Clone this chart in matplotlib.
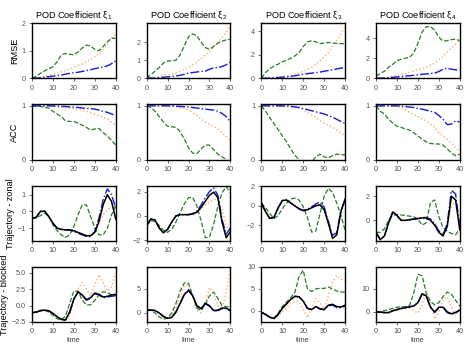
import numpy as np
import matplotlib
matplotlib.use("Agg")
import matplotlib.pyplot as plt

plt.rcParams["font.family"] = ["Liberation Sans", "DejaVu Sans"]
plt.rcParams["mathtext.fontset"] = "custom"
plt.rcParams["mathtext.rm"] = "Liberation Sans"
plt.rcParams["mathtext.it"] = "Liberation Sans"

# time grid (every 2 time units)
t = np.arange(0, 41, 2)

coef_titles = ["POD Coefficient ξ$_1$", "POD Coefficient ξ$_2$",
               "POD Coefficient ξ$_3$", "POD Coefficient ξ$_4$"]
row_labels = ["RMSE", "ACC", "Trajectory - zonal", "Trajectory - blocked"]

# ---- RMSE ----
rmse_blue = [
    [0, 0.01, 0.02, 0.04, 0.06, 0.08, 0.1, 0.12, 0.15, 0.18, 0.2, 0.22, 0.25, 0.28, 0.31, 0.35, 0.38, 0.41, 0.45, 0.53, 0.63],
    [0, 0.01, 0.02, 0.04, 0.06, 0.08, 0.1, 0.13, 0.17, 0.22, 0.28, 0.32, 0.35, 0.38, 0.4, 0.5, 0.58, 0.6, 0.65, 0.75, 0.9],
    [0, 0.01, 0.03, 0.05, 0.07, 0.1, 0.13, 0.17, 0.22, 0.28, 0.35, 0.4, 0.44, 0.48, 0.53, 0.6, 0.66, 0.72, 0.8, 0.87, 0.92],
    [0, 0.02, 0.04, 0.07, 0.1, 0.14, 0.18, 0.22, 0.26, 0.3, 0.35, 0.4, 0.44, 0.48, 0.52, 0.68, 0.9, 1.0, 0.9, 0.85, 0.85],
]
rmse_orange = [
    [0, 0.01, 0.03, 0.06, 0.1, 0.15, 0.19, 0.23, 0.28, 0.34, 0.4, 0.46, 0.53, 0.6, 0.68, 0.78, 0.9, 1.05, 1.22, 1.45, 1.65],
    [0, 0.02, 0.05, 0.09, 0.14, 0.2, 0.25, 0.3, 0.4, 0.5, 0.6, 0.75, 0.9, 1.1, 1.3, 1.5, 1.75, 2.0, 2.25, 2.55, 2.9],
    [0, 0.02, 0.04, 0.07, 0.1, 0.15, 0.2, 0.25, 0.35, 0.47, 0.6, 0.75, 0.9, 1.2, 1.5, 1.85, 2.2, 2.7, 3.2, 3.8, 4.4],
    [0, 0.03, 0.07, 0.12, 0.2, 0.3, 0.38, 0.45, 0.6, 0.72, 0.85, 0.98, 1.1, 1.3, 1.5, 1.85, 2.2, 2.6, 3.0, 3.4, 3.8],
]
rmse_green = [
    [0, 0.08, 0.18, 0.27, 0.35, 0.42, 0.6, 0.85, 0.9, 0.87, 0.85, 0.95, 1.1, 1.2, 1.17, 1.05, 1.0, 1.15, 1.32, 1.45, 1.45],
    [0, 0.2, 0.4, 0.6, 0.85, 0.95, 0.97, 1.0, 1.3, 1.8, 2.3, 2.45, 2.35, 2.0, 1.7, 1.6, 1.75, 1.95, 2.05, 2.12, 2.15],
    [0, 0.5, 0.8, 1.05, 1.2, 1.4, 1.55, 1.7, 1.9, 2.2, 2.7, 3.1, 3.2, 3.1, 2.95, 3.0, 3.05, 3.0, 2.97, 2.95, 2.95],
    [0.2, 0.5, 0.7, 1.1, 1.4, 1.75, 1.9, 2.0, 2.1, 2.5, 3.5, 4.6, 5.15, 5.15, 4.8, 4.1, 3.7, 3.75, 3.85, 3.9, 3.75],
]

# ---- ACC ----
acc_blue = [
    [1, 1, 1, 1, 1, 1, 0.995, 0.99, 0.99, 0.98, 0.98, 0.97, 0.96, 0.955, 0.95, 0.94, 0.92, 0.9, 0.88, 0.85, 0.82],
    [1, 1, 1, 1, 1, 1, 1, 0.995, 0.99, 0.985, 0.98, 0.97, 0.96, 0.95, 0.94, 0.93, 0.92, 0.9, 0.86, 0.8, 0.7],
    [1, 1, 1, 1, 1, 1, 0.995, 0.99, 0.98, 0.97, 0.95, 0.93, 0.91, 0.89, 0.87, 0.85, 0.82, 0.79, 0.75, 0.71, 0.67],
    [1, 1, 1, 1, 1, 1, 0.995, 0.99, 0.98, 0.97, 0.95, 0.94, 0.92, 0.9, 0.88, 0.82, 0.75, 0.65, 0.66, 0.72, 0.7],
]
acc_orange = [
    [1, 1, 1, 1, 1, 0.99, 0.98, 0.975, 0.97, 0.96, 0.95, 0.935, 0.92, 0.9, 0.87, 0.85, 0.82, 0.79, 0.75, 0.7, 0.65],
    [1, 1, 1, 1, 1, 0.995, 0.99, 0.985, 0.97, 0.95, 0.92, 0.87, 0.82, 0.76, 0.7, 0.66, 0.62, 0.57, 0.5, 0.43, 0.36],
    [1, 1, 1, 1, 1, 1, 0.995, 0.99, 0.98, 0.96, 0.93, 0.88, 0.83, 0.78, 0.73, 0.68, 0.64, 0.6, 0.55, 0.49, 0.45],
    [1, 1, 1, 1, 0.995, 0.99, 0.97, 0.93, 0.88, 0.84, 0.8, 0.76, 0.72, 0.66, 0.6, 0.5, 0.44, 0.38, 0.3, 0.22, 0.15],
]
acc_green = [
    [1, 0.995, 0.99, 0.97, 0.96, 0.9, 0.85, 0.8, 0.72, 0.71, 0.71, 0.68, 0.64, 0.6, 0.55, 0.57, 0.58, 0.5, 0.44, 0.36, 0.27],
    [1, 0.97, 0.9, 0.8, 0.7, 0.62, 0.61, 0.6, 0.52, 0.38, 0.22, 0.12, 0.11, 0.2, 0.27, 0.27, 0.18, 0.1, 0.05, 0.0, -0.05],
    [1, 0.9, 0.78, 0.67, 0.56, 0.44, 0.33, 0.2, 0.08, 0.0, -0.1, -0.15, -0.05, 0.05, 0.1, 0.05, 0.03, 0.07, 0.1, 0.09, 0.09],
    [1, 0.9, 0.85, 0.75, 0.68, 0.62, 0.6, 0.57, 0.55, 0.5, 0.44, 0.38, 0.33, 0.3, 0.29, 0.29, 0.27, 0.2, 0.12, 0.07, 0.1],
]

# ---- trajectories, zonal regime ----
zonal_truth = [
    [-0.4, -0.35, 0.0, 0.02, -0.3, -0.7, -1.0, -1.07, -1.1, -1.1, -1.15, -1.25, -1.35, -1.45, -1.45, -1.25, -0.6, 0.4, 1.0, 0.6, -0.45],
    [-0.8, -0.25, -0.35, -1.0, -1.4, -1.1, -0.5, 0.0, 0.1, 0.1, 0.1, 0.15, 0.3, 0.7, 1.2, 1.7, 1.95, 1.5, -0.5, -1.8, -1.3],
    [0.3, -0.6, -1.3, -1.2, -0.2, 0.55, 0.6, 0.3, 0.0, -0.3, -0.5, -0.4, -0.2, 0.0, 0.1, -0.4, -1.8, -3.35, -3.0, -0.6, 0.7],
    [-1.0, -1.6, -1.3, -0.2, 0.7, 0.4, 0.0, 0.0, 0.05, 0.1, 0.15, 0.2, 0.2, 0.0, -0.4, -1.0, -1.3, -0.5, 2.0, 1.7, -0.8],
]
zonal_blue = [
    [-0.4, -0.35, 0.0, 0.02, -0.3, -0.7, -1.0, -1.07, -1.1, -1.12, -1.2, -1.3, -1.4, -1.5, -1.5, -1.2, -0.4, 0.7, 1.35, 1.0, 0.2],
    [-0.8, -0.25, -0.35, -1.0, -1.4, -1.1, -0.5, 0.0, 0.1, 0.1, 0.1, 0.2, 0.4, 0.9, 1.5, 2.0, 2.3, 1.7, -0.3, -1.5, -1.0],
    [0.3, -0.6, -1.3, -1.2, -0.2, 0.55, 0.6, 0.3, 0.0, -0.3, -0.45, -0.35, -0.1, 0.2, 0.4, -0.1, -1.6, -3.0, -2.8, -0.5, 0.6],
    [-1.0, -1.6, -1.3, -0.2, 0.7, 0.4, 0.0, 0.0, 0.05, 0.1, 0.15, 0.2, 0.25, 0.1, -0.3, -0.9, -1.2, -0.3, 2.5, 2.2, -0.5],
]
zonal_orange = [
    [-0.4, -0.35, 0.0, 0.02, -0.3, -0.7, -1.0, -1.07, -1.1, -1.1, -1.15, -1.25, -1.35, -1.4, -1.35, -1.2, -0.7, -0.2, 0.1, 0.25, 0.3],
    [-0.8, -0.25, -0.35, -1.0, -1.4, -1.1, -0.5, 0.0, 0.1, 0.1, 0.1, 0.15, 0.3, 0.6, 0.9, 1.15, 1.3, 1.4, 0.6, -0.9, -1.4],
    [0.3, -0.6, -1.3, -1.2, -0.2, 0.55, 0.6, 0.3, 0.0, -0.3, -0.5, -0.4, -0.2, 0.05, 0.2, -0.2, -1.5, -3.0, -2.9, -0.7, 0.5],
    [-1.0, -1.6, -1.3, -0.2, 0.7, 0.4, 0.0, 0.0, 0.1, 0.15, 0.2, 0.25, 0.3, 0.2, -0.2, -0.8, -1.1, -0.6, 1.2, 1.5, -0.3],
]
zonal_green = [
    [-0.4, -0.4, -0.25, -0.1, -0.3, -0.8, -1.15, -1.4, -1.55, -1.4, -0.9, -0.2, 0.4, 0.4, -0.3, -1.0, -1.4, -1.4, -1.0, -0.2, 0.35],
    [-0.8, -0.4, -0.45, -0.8, -1.2, -1.35, -1.1, -0.5, 0.3, 1.0, 1.5, 1.5, 0.8, -0.4, -1.8, -1.75, -0.7, 0.8, 1.9, 2.4, 1.9],
    [0.3, -0.2, -0.8, -1.3, -1.0, -0.3, 0.3, 0.7, 0.8, 0.6, -0.1, -1.2, -2.7, -2.6, -0.8, 1.0, 1.8, 1.4, 0.3, -1.0, -2.5],
    [-1.0, -1.0, -0.7, 0.0, 0.4, 0.5, 0.45, 0.4, 0.35, 0.3, 0.1, -0.4, -0.2, 1.5, 1.7, 0.3, -0.6, -0.9, -1.1, -1.2, -0.7],
]

# ---- trajectories, blocked regime ----
blocked_truth = [
    [-1.1, -1.0, -0.8, -0.7, -0.8, -1.2, -1.7, -2.1, -2.2, -1.0, 1.0, 2.1, 1.6, 0.9, 1.2, 1.9, 1.7, 1.3, 1.4, 1.6, 1.7],
    [0.6, 0.6, 0.5, 0.0, -0.7, -1.1, -0.9, 0.2, 2.0, 3.8, 4.6, 3.5, 1.5, 0.9, 2.0, 1.5, 0.5, 0.6, 1.0, 1.0, 0.5],
    [-0.3, -0.8, -1.4, -1.7, -0.8, 0.6, 1.6, 2.6, 3.3, 3.2, 2.2, 0.6, 0.3, 1.0, 0.5, 0.3, 1.3, 1.5, 1.0, 0.9, 1.3],
    [0, -0.1, -0.3, -0.3, 0.5, 1.0, 1.5, 1.8, 2.2, 2.5, 4.0, 7.8, 6.8, 2.0, 0.0, 2.0, 2.0, 0.0, -0.8, -0.2, 0.8],
]
blocked_blue = [
    [-1.1, -1.0, -0.8, -0.7, -0.8, -1.2, -1.7, -2.1, -2.2, -1.0, 1.0, 2.0, 1.5, 0.8, 1.1, 1.8, 1.6, 1.2, 1.3, 1.4, 1.5],
    [0.6, 0.6, 0.5, 0.0, -0.7, -1.1, -0.9, 0.2, 2.0, 3.9, 4.8, 3.6, 1.4, 0.8, 1.9, 1.4, 0.4, 0.5, 0.9, 0.9, 0.4],
    [-0.3, -0.8, -1.4, -1.7, -0.8, 0.6, 1.6, 2.6, 3.3, 3.2, 2.2, 0.6, 0.3, 1.0, 0.4, 0.3, 1.2, 1.3, 0.8, 0.7, 1.1],
    [0, -0.1, -0.3, -0.3, 0.5, 1.0, 1.5, 1.8, 2.2, 2.5, 4.0, 7.6, 6.6, 2.0, -0.3, 1.8, 2.0, -0.3, -1.0, -0.4, 0.7],
]
blocked_orange = [
    [-1.1, -1.0, -0.8, -0.7, -0.8, -1.2, -1.7, -2.1, -2.2, -1.5, 0.5, 2.5, 3.5, 2.5, 1.5, 3.0, 4.7, 3.5, 2.2, 2.8, 5.0],
    [0.6, 0.6, 0.5, 0.0, -0.9, -1.0, -0.5, 1.0, 3.5, 5.5, 5.8, 3.5, 0.5, 0.0, 2.0, 5.2, 4.0, 1.5, 1.2, 4.0, 9.0],
    [-0.3, -0.8, -1.5, -1.9, -1.3, -0.2, 0.7, 1.6, 2.3, 2.0, 0.3, -1.5, 0.5, 2.8, 1.8, 0.5, 3.5, 6.5, 8.0, 7.2, 6.8],
    [0, -0.1, -0.2, 0.0, 0.3, 0.7, 1.0, 1.3, 1.5, 0.5, -0.5, 3.0, 8.5, 3.5, -3.0, 0.0, 5.5, 6.5, 2.0, -1.5, 1.5],
]
blocked_green = [
    [-1.1, -1.0, -0.7, -0.7, -1.0, -1.5, -2.0, -2.2, -1.6, 0.3, 2.2, 2.2, 0.8, 0.1, 0.1, 0.8, 1.6, 2.1, 2.0, 1.6, 1.5],
    [0.6, 0.5, 0.0, -0.8, -1.3, -1.0, 0.0, 2.0, 4.5, 6.2, 6.1, 3.5, 1.0, 0.5, 1.8, 3.5, 4.3, 3.0, 1.5, 1.3, 1.3],
    [-0.3, -0.8, -1.5, -1.6, -0.5, 1.0, 2.0, 3.0, 4.2, 7.8, 9.2, 5.0, 4.4, 5.0, 5.1, 5.1, 5.4, 5.0, 4.5, 4.3, 4.2],
    [0, 0.2, 0.5, 1.0, 1.5, 2.0, 2.2, 2.3, 2.8, 8.0, 16.0, 15.5, 8.0, 4.5, 3.0, 4.0, 6.5, 8.5, 7.5, 5.0, 2.5],
]

# axis limits / ticks per row (col order)
ylims = [
    [(0, 2.0), (0, 3.05), (0, 4.7), (0, 5.5)],
    [(0, 1.03)] * 4,
    [(-1.75, 1.55), (-2.05, 2.5), (-3.6, 2.1), (-1.7, 2.9)],
    [(-2.5, 5.9), (-1.85, 9.5), (-2.5, 9.9), (-4.3, 19.3)],
]
yticks = [
    [[0, 1, 2], [0, 1, 2], [0, 2, 4], [0, 2, 4]],
    [[0, 1]] * 4,
    [[-1, 0, 1], [-2, 0, 2], [-2, 0, 2], [0, 2]],
    [[-2.5, 0, 2.5, 5.0], [0, 5], [0, 5, 10], [0, 10]],
]

c_blue = "#1a1ad6"
c_orange = "#f5ad70"
c_green = "#2a7a2a"

fig, axes = plt.subplots(4, 4, figsize=(4.74, 3.55), dpi=100)
fig.subplots_adjust(left=0.0675, right=0.97, top=0.935, bottom=0.093,
                    wspace=0.37, hspace=0.47)

for j in range(4):
    rows = [
        (rmse_blue[j], rmse_orange[j], rmse_green[j], None),
        (acc_blue[j], acc_orange[j], acc_green[j], None),
        (zonal_blue[j], zonal_orange[j], zonal_green[j], zonal_truth[j]),
        (blocked_blue[j], blocked_orange[j], blocked_green[j], blocked_truth[j]),
    ]
    for i, (yb, yo, yg, ytrue) in enumerate(rows):
        ax = axes[i, j]
        ax.plot(t, yo, color=c_orange, ls=":", lw=1.0)
        ax.plot(t, yg, color=c_green, ls="--", lw=0.9)
        ax.plot(t, yb, color=c_blue, ls="-.", lw=1.0)
        if ytrue is not None:
            ax.plot(t, ytrue, color="k", lw=1.1)
        ax.set_xlim(0, 40)
        ax.set_xticks([0, 10, 20, 30, 40])
        ax.set_ylim(*ylims[i][j])
        ax.set_yticks(yticks[i][j])
        ax.tick_params(labelsize=5.2, labelcolor="#555555", color="#555555",
                       length=2.5, width=0.6, pad=2)
        for s in ax.spines.values():
            s.set_linewidth(1.0)
        if i == 0:
            ax.set_title(coef_titles[j], fontsize=6.6, pad=4)
        if j == 0:
            ax.set_ylabel(row_labels[i], fontsize=6.6, labelpad=2)
        if i == 3:
            ax.set_xlabel("time", fontsize=5.2, color="#444444", labelpad=1)

fig.savefig("out.png", dpi=100)
